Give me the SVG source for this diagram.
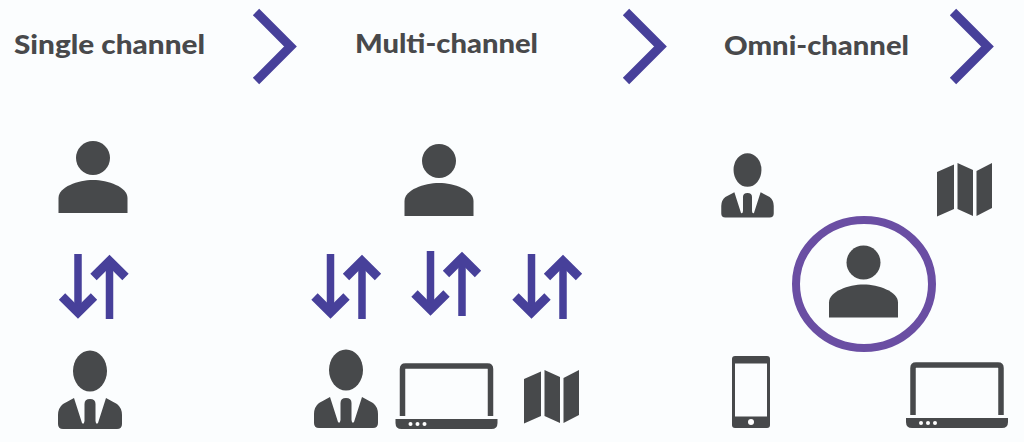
<svg xmlns="http://www.w3.org/2000/svg" width="1024" height="442" viewBox="0 0 1024 442">
<style>
.t{font-family:"Lato","Liberation Sans",sans-serif;font-weight:900;font-size:27px;fill:#48494b}
.d{fill:#47494b}
.ln{fill:none;stroke:#47494b}
.ch{fill:none;stroke:#47409a;stroke-width:9;stroke-linejoin:miter}
.ar{fill:none;stroke:#47409a;stroke-width:7.500}
.ah{fill:none;stroke:#47409a;stroke-width:9;stroke-linejoin:miter}
</style>
<defs>
<g id="person"><circle class="d" cx="0" cy="0" r="17"/><path class="d" d="M-34.500 55V40C-34.500 29-15 22 0 22C15 22 34.500 29 34.500 40V55Z"/></g>
<g id="biz"><ellipse class="d" cx="0" cy="0" rx="17" ry="20.500"/><path class="d" d="M-16 27L-27 33Q-32 37-32 44V53Q-32 58-27 58H27Q32 58 32 53V44Q32 37 27 33L16 27L8 52Q6 54 5.500 50V33Q5.500 28 0 28Q-5.500 28-5.500 33V50Q-6 54-8 52Z"/></g>
<g id="laptop"><path class="ln" stroke-width="5.500" d="M-44 56V9Q-44 6-41 6H41Q44 6 44 9V56"/><path class="d" d="M-51 59H51V63Q51 69 45 69H-45Q-51 69-51 63Z"/><circle cx="-36" cy="64" r="2" fill="#fff"/><circle cx="-29" cy="64" r="2" fill="#fff"/><circle cx="-22" cy="64" r="2" fill="#fff"/></g>
<g id="map"><path class="d" d="M0 10L17 2.500V47L0 54.500ZM20.500 1L36 8V54L20.500 47ZM39.500 9L55 1V46L39.500 54Z"/></g>
<g id="arrows"><path class="ar" d="M330.500 254V312M362 319V262"/><path class="ah" d="M314.500 296.500L330.500 312.500L346.500 296.500M346 277L362 261L378 277"/></g>
</defs>
<rect width="1024" height="442" fill="#fbfdfe"/>
<g id="heading-single"><text class="t" x="14" y="54" textLength="191" lengthAdjust="spacingAndGlyphs">Single channel</text></g>
<g id="heading-multi"><text class="t" x="355" y="53" textLength="183" lengthAdjust="spacingAndGlyphs">Multi-channel</text></g>
<g id="heading-omni"><text class="t" x="724" y="55" textLength="185" lengthAdjust="spacingAndGlyphs">Omni-channel</text></g>
<g id="connectors">
<path class="ch" d="M256 12L290.500 46.500L256 81"/>
<path class="ch" d="M626 12L660.500 46.500L626 81"/>
<path class="ch" d="M953 12L987.500 46.500L953 81"/>
<use href="#arrows" x="-252.500" y="0"/>
<use href="#arrows"/>
<use href="#arrows" x="100" y="-3"/>
<use href="#arrows" x="201" y="0"/>
</g>
<g id="single-customer"><use href="#person" x="93" y="158"/></g>
<g id="single-agent"><use href="#biz" x="90" y="371"/></g>
<g id="multi-customer"><use href="#person" x="439" y="161"/></g>
<g id="multi-agent"><use href="#biz" x="346" y="370"/></g>
<g id="multi-laptop"><use href="#laptop" x="446.500" y="360"/></g>
<g id="multi-map"><use href="#map" x="524" y="369"/></g>
<g id="omni-agent"><use href="#biz" transform="translate(747.500 170) scale(.82)"/></g>
<g id="omni-map"><use href="#map" x="937" y="162"/></g>
<g id="omni-customer"><ellipse cx="864" cy="284" rx="68" ry="64" fill="none" stroke="#6a4ea3" stroke-width="8"/><use href="#person" x="863.500" y="262.500"/></g>
<g id="omni-phone"><rect class="d" x="732" y="356" width="38" height="72" rx="3"/><rect x="735" y="363.500" width="32" height="53" fill="#fbfdfe"/><circle cx="751" cy="422" r="3" fill="#fff"/></g>
<g id="omni-laptop"><use href="#laptop" x="957" y="359"/></g>
</svg>
